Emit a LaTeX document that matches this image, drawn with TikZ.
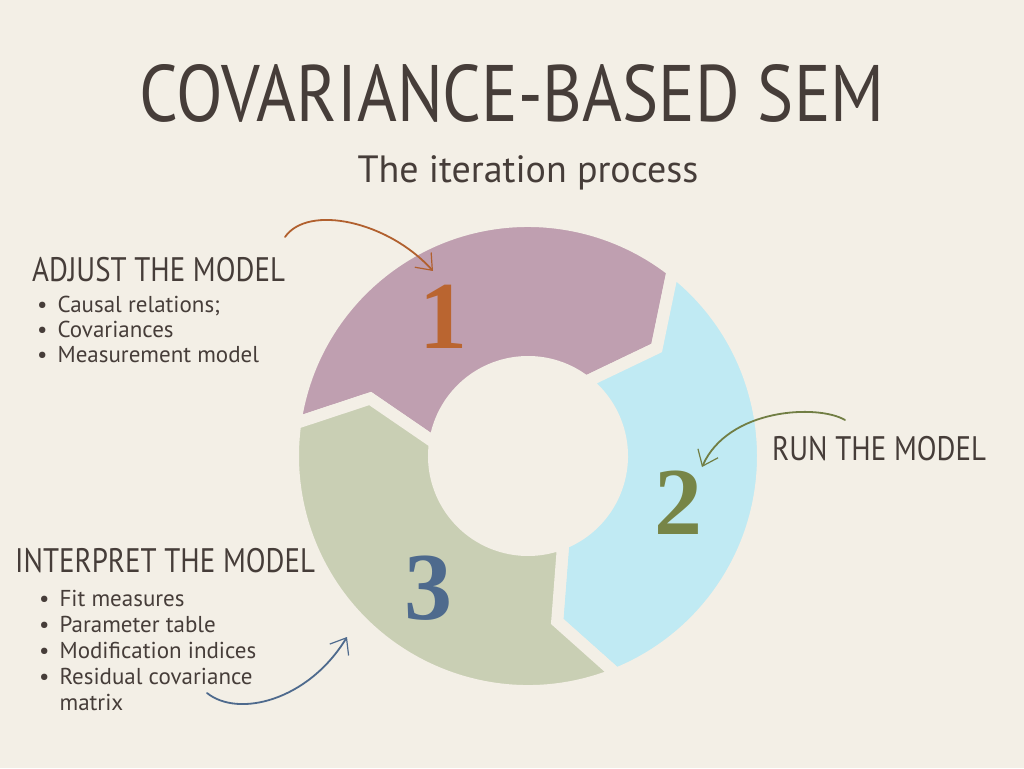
\documentclass[tikz,border=0pt]{standalone}
\usepackage{fontspec}
\usepackage{graphicx}
\usetikzlibrary{arrows.meta,positioning}
\setmainfont{PT Sans}
\newfontfamily\handfont[FakeStretch=0.85]{PT Sans}
\newfontfamily\numfont{Liberation Serif}
\definecolor{paper}{HTML}{F3EFE6}
\definecolor{ink}{HTML}{463D39}
\definecolor{mauve}{HTML}{BF9FB0}
\definecolor{skyblue}{HTML}{C0EAF3}
\definecolor{sage}{HTML}{C9CFB4}
\definecolor{rust}{HTML}{BA6530}
\definecolor{olive}{HTML}{778547}
\definecolor{slate}{HTML}{4E6A8D}

% ring radii (gap stroke of 12pt eats 6pt on each side)
\def\Rout{235pt}
\def\Rmid{168pt}
\def\Rin{94pt}

% one piece of the ring: start angle, end angle, colour
\newcommand{\ringpart}[3]{%
  \filldraw[part, fill=#3] (#1:\Rout) arc[start angle=#1, end angle=#2, radius=\Rout]
    -- (#2-12:\Rmid) -- (#2:\Rin) arc[start angle=#2, end angle=#1, radius=\Rin]
    -- (#1-12:\Rmid) -- cycle;}

\begin{document}
\begin{tikzpicture}[x=1pt,y=1pt,
    part/.style={draw=paper, line width=12pt, line join=miter},
    num/.style={font=\numfont\bfseries\fontsize{96}{96}\selectfont, inner sep=0pt},
    head/.style={text=ink, font=\handfont\fontsize{34}{34}\selectfont, inner sep=0pt, anchor=base west},
    list/.style={text=ink, font=\fontsize{23}{25}\selectfont, inner sep=0pt, anchor=base west},
    hand/.style={line width=1.8pt, line cap=round, -{Straight Barb[length=14pt,width=22pt,line width=1.2pt]}}]

\fill[paper] (-528,-312) rectangle (496,456);

% title
\node[text=ink, inner sep=0pt, anchor=base] (title) at (-16,334)
    {\resizebox{745pt}{57pt}{\handfont COVARIANCE-BASED SEM}};
\node[text=ink, inner sep=0pt, anchor=base, font=\fontsize{38}{38}\selectfont] (sub) at (0,273)
    {The iteration process};

% the ring
\ringpart{172}{52}{mauve}
\ringpart{52}{-68}{skyblue}
\ringpart{-68}{-188}{sage}

\node[num, text=rust]  (n1) at (-85,139)  {1};
\node[num, text=olive] (n2) at (150,-47)  {2};
\node[num, text=slate] (n3) at (-100,-132) {3};

% texts
\node[head] (adjust) at (-496,174) {ADJUST THE MODEL};
\node[list] (adjlist) at (-491,143) {\begin{tabular}[t]{@{}l@{\hspace{10pt}}l@{}}
    \textbullet & Causal relations;\\
    \textbullet & Covariances\\
    \textbullet & Measurement model
  \end{tabular}};

\node[head] (run) at (244,-4) {RUN THE MODEL};

\node[head] (interp) at (-513,-116) {INTERPRET THE MODEL};
\node[list, font=\fontsize{23}{26}\selectfont] (intlist) at (-489,-150) {\begin{tabular}[t]{@{}l@{\hspace{10pt}}l@{}}
    \textbullet & Fit measures\\
    \textbullet & Parameter table\\
    \textbullet & Modification indices\\
    \textbullet & Residual covariance\\
                & matrix
  \end{tabular}};

% hand drawn arrows
\coordinate (a1) at (-243,219);
\coordinate (b1) at (-95,185);
\coordinate (a2) at (317,36);
\coordinate (b2) at (174,-11);
\coordinate (a3) at (-321,-237);
\coordinate (b3) at (-181,-181);

\draw[hand, rust!95!black]  (a1) .. controls (-220,252) and (-140,235) .. (b1);
\draw[hand, olive!95!black] (a2) .. controls (290,52) and (200,48) .. (b2);
\draw[hand, slate]          (a3) .. controls (-290,-262) and (-220,-245) .. (b3);
\end{tikzpicture}
\end{document}
